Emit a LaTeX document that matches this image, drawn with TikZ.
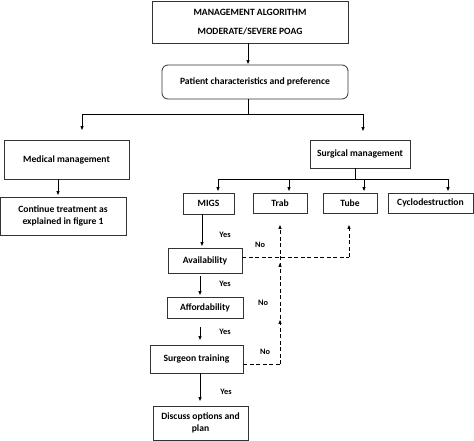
\documentclass[tikz,border=0pt]{standalone}
\usepackage{fontspec}
\setmainfont{Carlito}
\usetikzlibrary{arrows.meta,calc}
\begin{document}
\begin{tikzpicture}[x=1pt,y=-1pt,
  box/.style={draw=black!80, line width=0.8pt, inner sep=1pt, align=center, font=\bfseries\fontsize{9.6}{12}\selectfont},
  lbl/.style={font=\bfseries\fontsize{8.3}{10}\selectfont, inner sep=0pt},
  arr/.style={line width=0.9pt, -{Latex[length=4.5pt,width=3.5pt]}},
  ln/.style={line width=0.9pt},
  dsh/.style={line width=0.9pt, dash pattern=on 4pt off 2.5pt},
  darr/.style={dsh, -{Latex[length=4.5pt,width=3.5pt]}}]
\useasboundingbox (0,0) rectangle (474,441);
% boxes
\node[box, minimum width=196pt, minimum height=42pt] (top) at (250,22)
  {MANAGEMENT ALGORITHM\\[7pt]MODERATE/SEVERE POAG};
\node[box, rounded corners=6pt, minimum width=186pt, minimum height=34pt] (pat) at (255,82)
  {Patient characteristics and preference};
\node[box, minimum width=125pt, minimum height=39pt] (med) at (66.5,159.5) {Medical management};
\node[box, minimum width=126pt, minimum height=38pt] (cont) at (63,216)
  {Continue treatment as\\explained in figure 1};
\node[box, minimum width=100pt, minimum height=28pt] (surg) at (360,154) {Surgical management};
\node[box, minimum width=51pt, minimum height=21pt] (migs) at (208.5,203.5) {MIGS};
\node[box, minimum width=54pt, minimum height=20pt] (trab) at (280,203) {Trab};
\node[box, minimum width=54pt, minimum height=20pt] (tube) at (350,203) {Tube};
\node[box, minimum width=85pt, minimum height=20pt] (cyc) at (430.5,203) {Cyclodestruction};
\node[box, minimum width=74pt, minimum height=25pt] (avail) at (205,260.5) {Availability};
\node[box, minimum width=76pt, minimum height=21pt] (aff) at (205,307.5) {Affordability};
\node[box, minimum width=93pt, minimum height=28pt] (st) at (196.5,359) {Surgeon training};
\node[box, minimum width=95pt, minimum height=34pt] (disc) at (200.5,423)
  {Discuss options and\\plan};
% junction coordinates
\coordinate (j1) at (248,114);
\coordinate (j1l) at (82,114);
\coordinate (j1r) at (363,114);
\coordinate (j2) at (355,179);
\coordinate (j2l) at (218,179);
\coordinate (j2b) at (289,179);
\coordinate (j2c) at (364,179);
\coordinate (j2r) at (448,179);
\coordinate (tubeCorner) at (349,257);
\coordinate (trabCorner) at (280,364);
% solid connectors
\draw[arr] (top.south -| j1) -- (pat.north -| j1);
\draw[ln] (pat.south -| j1) -- (j1);
\draw[ln] (j1l) -- (j1r);
\draw[arr, shorten >=9pt] (j1l) -- (med.north -| j1l);
\draw[arr, shorten >=8pt] (j1r) -- (surg.north -| j1r);
\draw[arr, shorten >=1pt] (med.south -| 58,0) -- (cont.north -| 58,0);
\draw[ln] (surg.south -| j2) -- (j2);
\draw[ln] (j2l) -- (j2r);
\draw[arr, shorten >=1pt] (j2l) -- (migs.north -| j2l);
\draw[arr, shorten >=1pt] (j2b) -- (trab.north -| j2b);
\draw[arr, shorten >=1pt] (j2c) -- (tube.north -| j2c);
\draw[arr, shorten >=1pt] (j2r) -- (cyc.north -| j2r);
\draw[arr, shorten >=1pt] (migs.south -| 202,0) -- (avail.north -| 202,0);
\draw[arr, shorten <=3pt, shorten >=1pt] (avail.south -| 200,0) -- (aff.north -| 200,0);
\draw[arr, shorten <=9pt, shorten >=4pt] (aff.south -| 200,0) -- (st.north -| 200,0);
\draw[arr, shorten >=4pt] (st.south -| 200,0) -- (disc.north -| 200,0);
% dashed connectors
\draw[dsh] (avail.east |- tubeCorner) -- (tubeCorner);
\draw[darr, shorten >=11pt] (tubeCorner) -- (tube.south -| tubeCorner);
\draw[dsh] (st.east |- trabCorner) -- (trabCorner);
\draw[darr, shorten >=11pt] (trabCorner) -- (trab.south);
\draw[darr, shorten >=106pt] (trabCorner) -- (trab.south);
\draw[darr, shorten >=49pt] (trabCorner) -- (trab.south);
% labels
\node[lbl] (y1) at (225,235) {Yes};
\node[lbl] (y2) at (225,284) {Yes};
\node[lbl] (y3) at (225,332) {Yes};
\node[lbl] (y4) at (226,392) {Yes};
\node[lbl] (n1) at (260,245) {No};
\node[lbl] (n2) at (263,303) {No};
\node[lbl] (n3) at (265,352) {No};
\end{tikzpicture}
\end{document}
